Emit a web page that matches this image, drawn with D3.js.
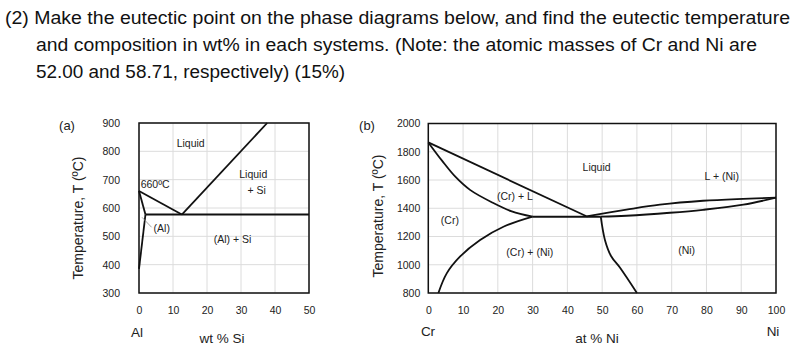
<!DOCTYPE html>
<html><head><meta charset="utf-8">
<script src="https://cdn.jsdelivr.net/npm/d3@7"></script>
<style>
html,body{margin:0;padding:0;background:#fff;}
svg{display:block;}
</style></head>
<body>
<svg id="c" width="796" height="347"></svg>
<script>
// ---------- header text ----------
const headerLines = [
  "(2) Make the eutectic point on the phase diagrams below, and find the eutectic temperature",
  "and composition in wt% in each systems. (Note: the atomic masses of Cr and Ni are",
  "52.00 and 58.71, respectively) (15%)"
];

// ---------- panel (a) Al–Si ----------
const aXTicks = [0, 10, 20, 30, 40, 50];
const aYTicks = [300, 400, 500, 600, 700, 800, 900];
const aLiquidusLeft  = [[0, 660], [12.6, 577]];
const aLiquidusRight = [[12.6, 577], [37.7, 900]];
const aEutecticLine  = [[1.9, 577], [50, 577]];
const aSolidus       = [[0, 660], [1.9, 577]];
const aSolvus        = [[1.9, 577], [0, 385]];
const aLeader        = [[0.9, 567], [3.7, 532]];
const aLabels = [
  {t: "Liquid", x: 15.2, y: 829, a: "middle"},
  {t: "Liquid", x: 33.6, y: 720, a: "middle"},
  {t: "+ Si", x: 34.6, y: 664, a: "middle"},
  {t: "(Al) + Si", x: 27.5, y: 490, a: "middle"},
  {t: "660ºC", x: 0.5, y: 683, a: "start"},
  {t: "(Al)", x: 6.7, y: 527, a: "middle"}
];

// ---------- panel (b) Cr–Ni ----------
const bXTicks = [0, 10, 20, 30, 40, 50, 60, 70, 80, 90, 100];
const bYTicks = [800, 1000, 1200, 1400, 1600, 1800, 2000];
const bLiquidusCr = [[0, 1866], [45.5, 1343]];
const bSolidusCr  = [[0, 1866], [4, 1735], [7.7, 1625], [12, 1530], [18.7, 1437], [24, 1378], [30, 1340]];
const bSolvusCr   = [[30, 1340], [21.6, 1269], [14.9, 1175], [9.1, 1057], [5.3, 939], [2.9, 800]];
const bEutectic   = [[30, 1340], [49.6, 1340]];
const bLiquidusNi = [[45.5, 1343], [57, 1390], [66.6, 1425], [79, 1453], [90.6, 1467], [100, 1475]];
const bSolidusNi  = [[49.6, 1340], [57, 1347], [69.5, 1368], [79, 1389], [90.6, 1425], [100, 1475]];
const bSolvusNi   = [[49.6, 1340], [50.8, 1176], [52.6, 1060], [55.1, 980], [60, 800]];
const bLabels = [
  {t: "Liquid", x: 48.4, y: 1690},
  {t: "L + (Ni)", x: 84.4, y: 1628},
  {t: "(Cr) + L", x: 24.9, y: 1487},
  {t: "(Cr)", x: 6.2, y: 1317},
  {t: "(Cr) + (Ni)", x: 29.2, y: 1085},
  {t: "(Ni)", x: 74.3, y: 1104}
];

const svg = d3.select("#c");
const FONT = "'Liberation Sans', Arial, sans-serif";

// header
const hdr = svg.append("g").attr("font-family", FONT).attr("font-size", 17.5).attr("fill", "#111");
hdr.append("text").attr("x", 5).attr("y", 24).attr("textLength", 785).attr("lengthAdjust", "spacingAndGlyphs").text(headerLines[0]);
hdr.append("text").attr("x", 36).attr("y", 51).attr("textLength", 721).attr("lengthAdjust", "spacingAndGlyphs").text(headerLines[1]);
hdr.append("text").attr("x", 36).attr("y", 78).attr("textLength", 309).attr("lengthAdjust", "spacingAndGlyphs").text(headerLines[2]);

function panel(opt) {
  const x = d3.scaleLinear().domain(opt.xd).range([opt.l, opt.r]);
  const y = d3.scaleLinear().domain(opt.yd).range([opt.b, opt.t]);
  const g = svg.append("g").attr("font-family", FONT);

  // grid
  g.append("g").selectAll("line.v").data(opt.xt).join("line")
    .attr("x1", d => x(d)).attr("x2", d => x(d)).attr("y1", opt.t).attr("y2", opt.b)
    .attr("stroke", "#dcdcdc").attr("stroke-width", 1);
  g.append("g").selectAll("line.h").data(opt.yt).join("line")
    .attr("y1", d => y(d)).attr("y2", d => y(d)).attr("x1", opt.l).attr("x2", opt.r)
    .attr("stroke", "#dcdcdc").attr("stroke-width", 1);

  // axes (labels only)
  const ax = g.append("g").attr("transform", `translate(0,${opt.b})`)
    .call(d3.axisBottom(x).tickValues(opt.xt).tickFormat(d3.format("d")).tickSize(0).tickPadding(14));
  ax.select(".domain").remove();
  ax.selectAll("text").attr("font-size", 10.5).attr("font-family", FONT).attr("fill", "#222");
  const ay = g.append("g").attr("transform", `translate(${opt.l},0)`)
    .call(d3.axisLeft(y).tickValues(opt.yt).tickFormat(d3.format("d")).tickSize(0).tickPadding(opt.ypad));
  ay.select(".domain").remove();
  ay.selectAll("text").attr("font-size", 10.5).attr("font-family", FONT).attr("fill", "#222");

  // box
  g.append("rect").attr("x", opt.l).attr("y", opt.t).attr("width", opt.r - opt.l).attr("height", opt.b - opt.t)
    .attr("fill", "none").attr("stroke", "#111").attr("stroke-width", 1.5);

  return {x, y, g};
}

function txt(x, y, s, size, anchor) {
  return svg.append("text").attr("x", x).attr("y", y).attr("dy", "0.35em").attr("text-anchor", anchor || "middle")
    .attr("font-family", FONT).attr("font-size", size).attr("fill", "#222").text(s);
}

// ----- panel a
const A = panel({xd: [0, 50], yd: [300, 900], l: 139, r: 309, t: 123, b: 293, xt: aXTicks, yt: aYTicks, ypad: 19});
const lineA = d3.line().x(d => A.x(d[0])).y(d => A.y(d[1]));
[aLiquidusLeft, aLiquidusRight, aEutecticLine, aSolidus, aSolvus].forEach(s => {
  A.g.append("path").attr("d", lineA(s)).attr("fill", "none").attr("stroke", "#111").attr("stroke-width", 1.8);
});
A.g.append("path").attr("d", lineA(aLeader)).attr("fill", "none").attr("stroke", "#888").attr("stroke-width", 0.8);
A.g.selectAll("text.lab").data(aLabels).join("text").attr("class", "lab")
  .attr("x", d => A.x(d.x)).attr("y", d => A.y(d.y)).attr("dy", "0.35em")
  .attr("text-anchor", d => d.a).attr("font-size", 10.5).attr("fill", "#222").text(d => d.t);
txt(67, 125, "(a)", 13);
txt(137, 332, "Al", 13.5);
txt(222, 338, "wt % Si", 13.5);
svg.append("text").attr("transform", "translate(78,218) rotate(-90)").attr("dy", "0.35em").attr("text-anchor", "middle")
  .attr("font-family", FONT).attr("font-size", 14).attr("fill", "#222").text("Temperature, T  (ºC)");

// ----- panel b
const B = panel({xd: [0, 100], yd: [800, 2000], l: 428.3, r: 776, t: 123.5, b: 293, xt: bXTicks, yt: bYTicks, ypad: 8});
const lineB = d3.line().x(d => B.x(d[0])).y(d => B.y(d[1]));
const curveB = d3.line().x(d => B.x(d[0])).y(d => B.y(d[1])).curve(d3.curveCatmullRom.alpha(0.5));
[bLiquidusCr, bEutectic].forEach(s => {
  B.g.append("path").attr("d", lineB(s)).attr("fill", "none").attr("stroke", "#111").attr("stroke-width", 1.8);
});
[bSolidusCr, bSolvusCr, bLiquidusNi, bSolidusNi, bSolvusNi].forEach(s => {
  B.g.append("path").attr("d", curveB(s)).attr("fill", "none").attr("stroke", "#111").attr("stroke-width", 1.8);
});
B.g.selectAll("text.lab").data(bLabels).join("text").attr("class", "lab")
  .attr("x", d => B.x(d.x)).attr("y", d => B.y(d.y)).attr("dy", "0.35em")
  .attr("text-anchor", "middle").attr("font-size", 10.5).attr("fill", "#222").text(d => d.t);
txt(367, 125, "(b)", 13);
txt(428, 331, "Cr", 13.5);
txt(773, 331, "Ni", 13.5);
txt(597, 338, "at % Ni", 13.5);
svg.append("text").attr("transform", "translate(378,216) rotate(-90)").attr("dy", "0.35em").attr("text-anchor", "middle")
  .attr("font-family", FONT).attr("font-size", 14).attr("fill", "#222").text("Temperature, T  (ºC)");
</script>
</body></html>
